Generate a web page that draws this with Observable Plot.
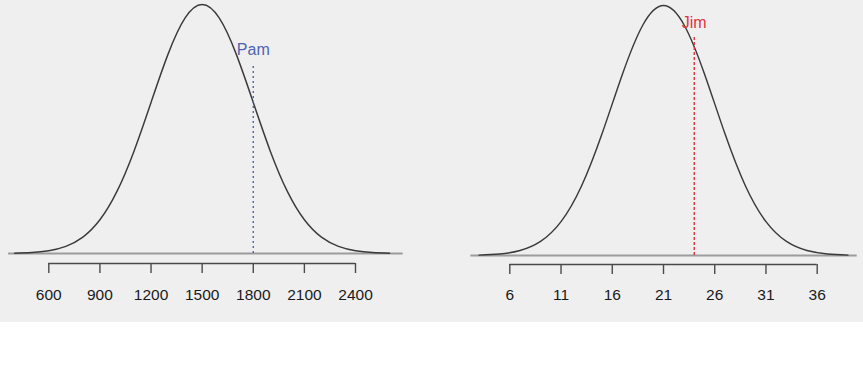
<!DOCTYPE html>
<html>
<head>
<meta charset="utf-8">
<script src="https://cdn.jsdelivr.net/npm/d3@7"></script>
<script src="https://cdn.jsdelivr.net/npm/@observablehq/plot@0.6"></script>
<style>
  html, body { margin: 0; padding: 0; background: #ffffff; }
  #wrap { display: flex; width: 863px; height: 322px; background: #efeff0; }
  #wrap svg { display: block; }
</style>
</head>
<body>
<div id="wrap"></div>
<script>
// ---- Left panel: scores (Pam) ----
const leftX = [400, 500, 600, 700, 800, 900, 1000, 1100, 1200, 1300, 1400, 1500,
               1600, 1700, 1800, 1900, 2000, 2100, 2200, 2300, 2400, 2500, 2600];
// density (per 1000 points)
const leftDensity = [0.0016, 0.0051, 0.0148, 0.0380, 0.0874, 0.1800, 0.3316, 0.5467, 0.8066, 1.0648, 1.2579, 1.3298,
                     1.2579, 1.0648, 0.8066, 0.5467, 0.3316, 0.1800, 0.0874, 0.0380, 0.0148, 0.0051, 0.0016];
const leftTicks = [600, 900, 1200, 1500, 1800, 2100, 2400];
const leftBaseline = [364, 2680];
const pam = {name: "Pam", score: 1800, lineTop: 1.015, labelY: 1.087};

// ---- Right panel: scores (Jim) ----
const rightX = [3, 5, 7, 9, 11, 13, 15, 17, 19, 21, 23, 25, 27, 29, 31, 33, 35, 37, 39];
const rightDensity = [0.00012, 0.00048, 0.00158, 0.00448, 0.01080, 0.02218, 0.03884, 0.05794, 0.07365, 0.07979,
                      0.07365, 0.05794, 0.03884, 0.02218, 0.01080, 0.00448, 0.00158, 0.00048, 0.00012];
const rightTicks = [6, 11, 16, 21, 26, 31, 36];
const rightBaseline = [2.2, 39.9];
const jim = {name: "Jim", score: 24, lineTop: 0.0696, labelY: 0.0742};

const FONT = "'Liberation Sans', Arial, Helvetica, sans-serif";

function panel({xs, ys, ticks, baseline, marker, color, dash, width, height,
                marginLeft, marginRight, marginTop, marginBottom, axisDy, tickPadding}) {
  const data = xs.map((x, i) => ({x, y: ys[i]}));
  return Plot.plot({
    width, height, marginLeft, marginRight, marginTop, marginBottom,
    x: {domain: [ticks[0], ticks[ticks.length - 1]]},
    y: {domain: [0, d3.max(ys)], axis: null},
    style: {background: "transparent", fontFamily: FONT, fontSize: "15.5px", color: "#1a1a1a", overflow: "visible"},
    marks: [
      Plot.ruleY([0], {x1: baseline[0], x2: baseline[1], stroke: "#9c9c9c", strokeWidth: 1.8}),
      Plot.line(data, {x: "x", y: "y", curve: "natural", stroke: "#3a3a3a", strokeWidth: 1.45}),
      Plot.ruleX([marker], {x: "score", y1: 0, y2: "lineTop", stroke: color, strokeWidth: 1.4, strokeDasharray: dash}),
      Plot.text([marker], {x: "score", y: "labelY", text: "name", fill: color, fontSize: 16, fontFamily: FONT}),
      Plot.ruleY([0], {x1: ticks[0], x2: ticks[ticks.length - 1], dy: axisDy, stroke: "#4a4a4a", strokeWidth: 1.4}),
      Plot.axisX({ticks, tickSize: 10, tickPadding, dy: axisDy, stroke: "#4a4a4a", strokeWidth: 1.4,
                  fill: "#1a1a1a", fontSize: 15.5, tickFormat: d => String(d), label: null})
    ]
  });
}

const wrap = document.getElementById("wrap");
wrap.appendChild(panel({
  xs: leftX, ys: leftDensity, ticks: leftTicks, baseline: leftBaseline, marker: pam,
  color: "#4f64ad", dash: "2,3",
  width: 431, height: 322, marginLeft: 48.3, marginRight: 76, marginTop: 4, marginBottom: 69,
  axisDy: 10, tickPadding: 15
}));
wrap.appendChild(panel({
  xs: rightX, ys: rightDensity, ticks: rightTicks, baseline: rightBaseline, marker: jim,
  color: "#e2323e", dash: "3,2",
  width: 432, height: 322, marginLeft: 78.3, marginRight: 46.3, marginTop: 5, marginBottom: 67,
  axisDy: 9, tickPadding: 14.3
}));
</script>
</body>
</html>
